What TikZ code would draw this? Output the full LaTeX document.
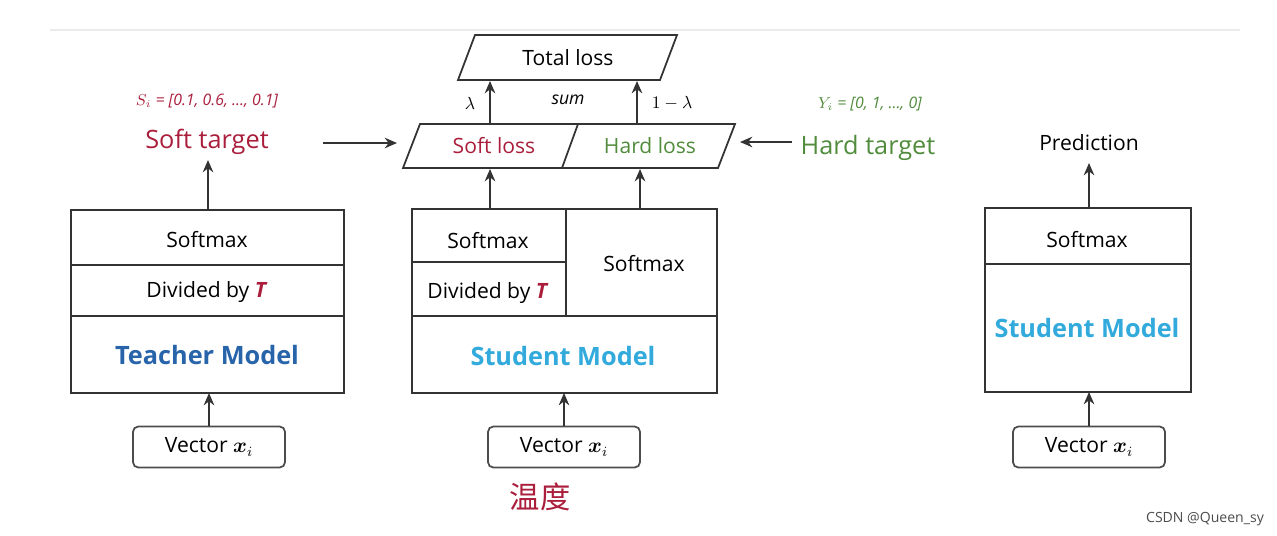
\documentclass[tikz,border=0pt]{standalone}
\usepackage{amsmath,bm}
\usepackage{fontspec}
\setmainfont{Open Sans}
\newfontfamily\cjk{Noto Sans CJK SC}
\usetikzlibrary{arrows.meta}
\definecolor{rd}{RGB}{170,30,60}
\definecolor{gr}{RGB}{80,140,60}
\definecolor{bl}{RGB}{40,100,170}
\definecolor{cy}{RGB}{50,170,220}
\begin{document}
\begin{tikzpicture}[x=0.02cm,y=-0.02cm,
 ln/.style={draw=black!80,line width=1pt},
 ar/.style={-{Stealth[length=7pt,width=6pt]},line width=1pt,black!80},
 vec/.style={draw=black!70,line width=1pt,rounded corners=3pt,minimum width=3.04cm,minimum height=0.82cm,font=\large},
 lab/.style={font=\large}]
\useasboundingbox (0,0) rectangle (1277,535);
\draw[black!8,line width=1pt] (50,30) -- (1240,30);
% total loss
\draw[ln] (475,35) -- (677,35) -- (660,80) -- (458,80) -- cycle;
\node[lab] (tl) at (568,58) {Total loss};
\node (lam) at (470,103) {$\lambda$};
\node[font=\itshape] (sum) at (568,100) {sum};
\node (olam) at (672,103) {$1-\lambda$};
% loss
\draw[ln] (420,124) -- (735,124) -- (718,168) -- (403,168) -- cycle;
\draw[ln] (578,124) -- (562,168);
\node[lab,text=rd] (sl) at (494,146) {Soft loss};
\node[lab,text=gr] (hl) at (650,146) {Hard loss};
\coordinate (l1) at (490,124); \coordinate (l2) at (637,124);
\coordinate (t1) at (490,81); \coordinate (t2) at (637,81);
\draw[ar] (l1) -- (t1); \draw[ar] (l2) -- (t2);
% targets
\node[text=rd,font=\small\itshape] (si) at (207,101) {$S_i$ = [0.1, 0.6, ..., 0.1]};
\node[text=rd,font=\Large] (st) at (207,142) {Soft target};
\node[text=gr,font=\small\itshape] (yi) at (870,104) {$Y_i$ = [0, 1, ..., 0]};
\node[text=gr,font=\Large] (ht) at (868,148) {Hard target};
\coordinate (sa) at (323,143); \coordinate (sb) at (397,143);
\coordinate (ha) at (792,142); \coordinate (hb) at (740,142);
\draw[ar] (sa) -- (sb); \draw[ar] (ha) -- (hb);
% teacher
\draw[ln] (71,210) rectangle (344,393);
\draw[ln] (71,265) -- (344,265); \draw[ln] (71,316) -- (344,316);
\node[lab] (tsm) at (207,240) {Softmax};
\node[lab] (tdv) at (207,292) {Divided by \textcolor{rd}{\textit{\textbf{T}}}};
\node[font=\Large\bfseries,text=bl] (tm) at (207,355) {Teacher Model};
\coordinate (tt) at (208,210); \coordinate (tst) at (208,160);
\draw[ar] (tt) -- (tst);
% student
\draw[ln] (412,209) rectangle (717,393);
\draw[ln] (412,316) -- (717,316); \draw[ln] (566,209) -- (566,316); \draw[ln] (412,262) -- (566,262);
\node[lab] (ssm) at (488,241) {Softmax};
\node[lab] (sdv) at (488,293) {Divided by \textcolor{rd}{\textit{\textbf{T}}}};
\node[lab] (ssm2) at (644,264) {Softmax};
\node[font=\Large\bfseries,text=cy] (sm) at (563,356) {Student Model};
\coordinate (s1) at (490,209); \coordinate (s2) at (640,209);
\coordinate (s1e) at (490,169); \coordinate (s2e) at (640,169);
\draw[ar] (s1) -- (s1e); \draw[ar] (s2) -- (s2e);
% right
\draw[ln] (985,208) rectangle (1191,392);
\draw[ln] (985,264) -- (1191,264);
\node[lab] (rsm) at (1087,240) {Softmax};
\node[font=\Large\bfseries,text=cy] (rm) at (1087,328) {Student Model};
\node[lab] (pred) at (1089,143) {Prediction};
\coordinate (r1) at (1089,208); \coordinate (r1e) at (1089,163);
\draw[ar] (r1) -- (r1e);
% vectors
\node[vec] (v1) at (209,447) {Vector $\bm{x}_i$};
\node[vec] (v2) at (564,447) {Vector $\bm{x}_i$};
\node[vec] (v3) at (1089,447) {Vector $\bm{x}_i$};
\coordinate (b1) at (209,393); \coordinate (b2) at (564,393); \coordinate (b3) at (1089,392);
\draw[ar] (v1) -- (b1); \draw[ar] (v2) -- (b2); \draw[ar] (v3) -- (b3);
\node[text=rd,font=\cjk\LARGE] (wd) at (540,497) {温度};
\node[font=\footnotesize,text=black!70] (csdn) at (1205,519) {CSDN @Queen\_sy};
\end{tikzpicture}
\end{document}
